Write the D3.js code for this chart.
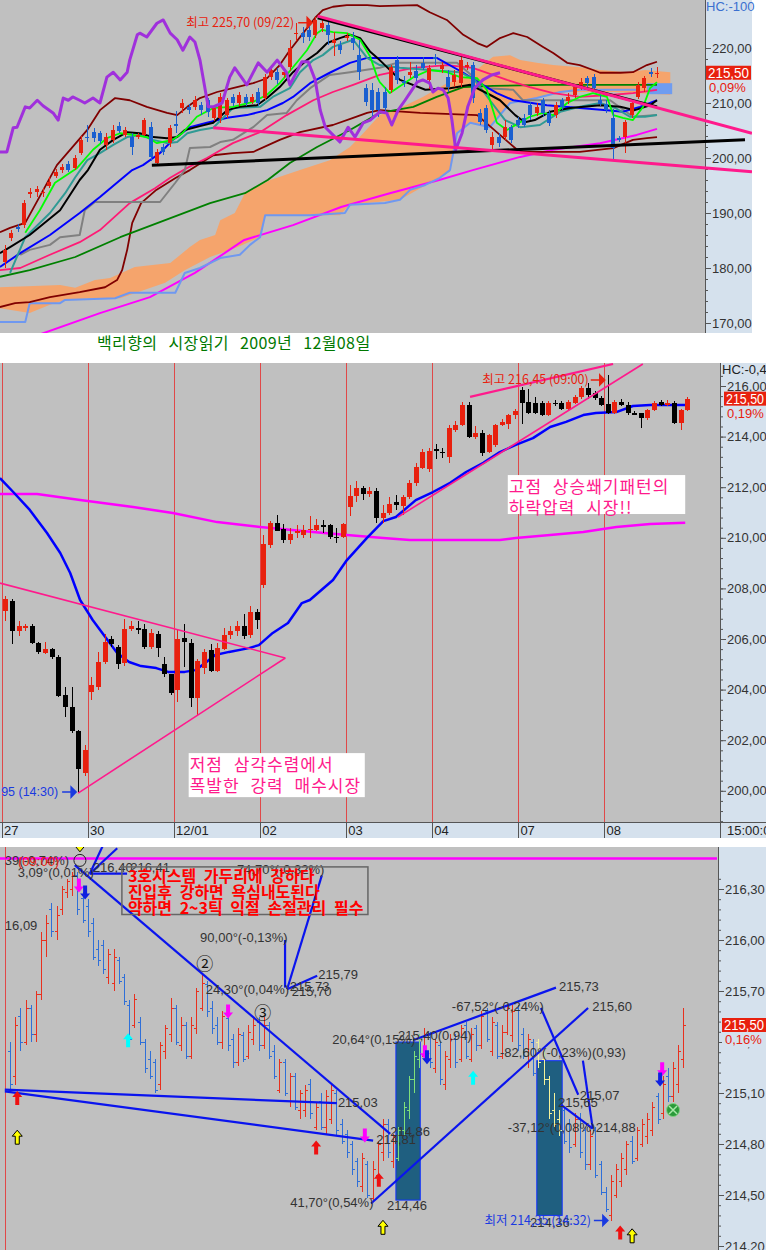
<!DOCTYPE html>
<html>
<head>
<meta charset="utf-8">
<script src="https://cdnjs.cloudflare.com/ajax/libs/d3/7.8.5/d3.min.js"></script>
<style>
  body { margin: 0; background: #fff; }
  svg { display: block; }
  text { font-family: "Liberation Sans Narrow", "Liberation Sans", Arial, sans-serif; }
  .kr { font-family: "Noto Sans CJK KR", sans-serif; }
</style>
</head>
<body>
<svg id="chart" width="766" height="1250"></svg>
<script>
// ---------------- panel 1 : daily candles [open, high, low, close] ----------------
const p1Candles = [
  [181.1,184.2,180.0,183.3],[185.5,187.0,185.0,186.4],[187.4,188.0,186.5,187.2],[187.8,192.4,187.3,191.8],
  [193.4,194.5,192.8,193.8],[193.8,195.0,193.0,194.3],[193.6,194.6,193.0,193.9],[194.9,196.5,194.5,195.6],
  [196.7,198.0,196.3,197.4],[197.9,199.0,197.3,198.4],[198.9,199.5,197.5,197.8],[198.2,200.5,197.8,200.0],
  [200.9,204.0,200.5,203.3],[203.9,206.0,203.0,203.7],[204.7,205.5,203.0,203.6],[204.5,205.0,202.5,203.1],
  [202.4,204.5,201.5,203.8],[203.3,206.0,202.8,205.1],[205.8,206.5,204.5,204.9],[204.2,205.6,203.8,205.1],
  [203.8,204.6,200.5,202.0],[203.9,204.6,203.4,204.1],[204.2,207.2,204.0,206.9],[205.6,206.5,199.5,200.2],
  [199.1,201.6,198.8,201.1],[202.0,202.5,200.5,201.1],[202.7,206.0,202.0,205.5],[206.1,208.5,204.5,205.9],
  [209.1,210.8,208.2,210.0],[209.3,209.8,208.0,208.7],[209.3,211.2,208.8,210.5],[209.6,210.2,207.9,208.7],
  [210.5,211.0,207.5,208.4],[207.3,209.6,206.8,209.1],[207.3,211.8,206.4,211.1],[207.8,211.0,207.3,210.5],
  [211.1,211.6,209.4,210.0],[210.0,212.0,209.5,211.5],[211.1,211.6,209.5,210.0],[210.2,211.6,209.8,211.1],
  [212.0,212.8,209.5,210.0],[210.9,215.2,210.5,214.7],[214.7,217.0,214.2,216.0],[215.6,216.3,213.5,214.2],
  [215.1,216.2,214.5,215.6],[216.5,221.5,215.8,220.0],[222.6,224.5,221.3,222.8],[222.7,223.8,221.0,222.0],
  [223.3,224.5,221.3,222.0],[222.4,225.7,221.8,225.1],[223.6,225.3,223.0,224.6],[224.2,225.0,220.5,222.4],
  [220.9,223.0,218.5,221.5],[220.5,221.3,219.0,219.6],[221.9,222.8,221.3,222.1],[221.8,223.0,219.6,220.9],
  [218.7,221.5,214.2,215.6],[212.7,213.5,209.5,210.2],[212.4,213.7,207.5,208.7],[212.0,212.8,207.5,208.7],
  [212.0,213.0,208.0,209.1],[212.4,217.0,211.8,216.5],[217.8,218.5,213.5,214.2],[214.0,215.0,213.0,213.7],
  [215.1,217.5,214.5,215.6],[215.8,217.0,214.0,214.5],[217.3,218.3,216.0,216.4],[214.2,217.0,212.5,216.4],
  [218.3,219.0,217.0,218.0],[216.2,217.5,215.5,216.9],[214.7,216.0,212.0,212.9],[213.8,216.0,213.0,215.1],
  [213.6,218.5,213.0,217.8],[216.6,217.5,216.0,216.9],[216.9,217.5,210.0,210.9],[208.2,209.0,206.0,206.5],
  [209.1,209.6,204.5,205.1],[202.4,204.8,201.6,203.8],[203.8,204.5,202.0,202.7],[203.8,207.0,203.3,205.6],
  [205.6,206.0,202.7,203.3],[207.0,207.5,205.5,206.0],[207.3,208.0,205.6,206.0],[209.6,210.2,207.0,207.8],
  [208.2,210.0,207.6,209.3],[210.5,211.0,207.5,208.2],[208.2,208.8,205.8,206.4],[207.8,210.2,207.2,209.6],
  [210.5,211.0,208.7,209.3],[210.4,211.8,209.8,211.1],[211.5,213.5,211.0,212.9],[212.9,214.5,212.4,213.8],
  [214.5,215.0,213.0,213.6],[214.7,215.3,212.0,212.7],[210.5,211.5,209.5,209.8],[209.8,210.5,208.2,208.7],
  [207.3,209.0,199.6,201.8],[203.6,204.0,203.0,203.3],[203.8,207.0,201.0,206.5],[207.8,210.5,207.3,210.0],
  [211.1,213.8,210.7,213.3],[212.7,215.0,212.0,214.5],[215.6,216.3,214.7,215.3],[215.3,216.5,214.5,215.5]
];
// indicator lines, [candle index, price]
const p1Chikou = [[-0.8,201.1],[0.3,201.1],[1.3,205.5],[1.9,205.6],[3.2,209.3],[3.9,209.1],[5.1,210.5],[6.0,209.5],[7.6,208.2],[8.4,206.9],[9.2,210.9],[10.0,210.5],[10.7,211.1],[11.8,210.5],[12.6,210.0],[13.9,210.9],[15.0,210.0],[16.1,214.7],[17.1,215.6],[18.2,214.2],[19.3,215.6],[19.7,217.8],[20.9,222.4],[21.3,222.7],[22.4,222.0],[24.0,224.5],[25.0,225.1],[26.1,222.7],[27.2,221.5],[28.1,219.6],[29.2,222.0],[30.0,221.1],[30.8,217.8],[32.1,209.3],[32.9,209.3],[34.3,210.0],[35.5,214.7],[36.3,216.4],[38.2,213.3],[40.0,217.3],[41.4,215.6],[43.0,217.8],[44.5,215.5],[45.0,213.3],[46.9,217.5],[47.9,217.5],[49.0,214.2],[49.8,208.7],[50.6,205.6],[51.8,204.2],[52.9,202.9],[54.2,205.6],[55.3,203.8],[56.6,206.4],[57.7,206.9],[59.2,208.4],[60.3,208.2],[61.1,206.0],[62.1,208.7],[63.2,210.5],[64.3,212.4],[65.1,213.8],[66.0,214.2],[67.1,213.6],[67.6,212.0],[68.4,212.7],[69.2,212.4],[70.0,210.9],[70.6,206.9],[71.2,201.5],[72.2,204.5],[73.1,209.3],[74.2,212.7],[75.5,214.2],[76.9,215.1],[78.2,215.5]];
const p1BandUp = [[-0.8,186.5],[0.8,187.3],[3.2,188.2],[8.2,198.7],[13.0,205.1],[15.0,208.7],[17.4,210.9],[19.7,210.5],[22.4,209.3],[25.6,208.2],[27.2,207.8],[28.8,209.3],[30.8,210.9],[33.5,212.0],[36.0,212.7],[39.2,213.6],[41.4,214.5],[43.4,216.9],[45.0,219.6],[47.1,222.7],[49.0,225.5],[50.2,226.9],[51.8,227.5],[54.0,227.8],[57.2,227.8],[59.2,227.6],[65.1,227.8],[67.1,226.5],[69.8,225.1],[72.4,222.4],[74.6,220.9],[76.1,220.2],[78.2,221.8],[80.3,222.7],[82.5,222.0],[85.0,220.2],[86.6,219.1],[88.8,217.3],[90.8,216.9],[92.9,216.0],[94.0,215.5],[97.2,215.5],[99.2,215.6],[101.4,216.9],[103.0,217.5]];
const p1BandLow = [[-0.8,172.9],[1.6,173.6],[3.9,173.8],[7.1,174.7],[11.8,175.6],[15.8,176.5],[17.7,177.8],[18.5,179.6],[19.3,183.3],[20.1,188.2],[21.5,191.8],[23.9,194.2],[27.0,196.4],[29.2,197.8],[32.9,200.5],[36.0,200.9],[39.2,201.1],[43.4,203.3],[46.6,204.7],[51.8,206.0],[55.0,207.3],[57.2,208.2],[59.2,208.7],[65.6,208.2],[74.6,207.8],[80.9,201.5],[81.8,201.1],[90.8,201.1],[96.1,201.8],[99.2,203.3],[101.4,203.6],[103.0,203.8]];
const p1MaBlack = [[-0.8,182.7],[0.8,183.8],[3.9,186.0],[8.7,190.5],[11.8,196.0],[13.1,197.8],[15.0,201.5],[17.1,203.3],[19.3,204.7],[21.3,204.5],[23.4,203.8],[25.6,203.6],[27.2,203.8],[28.4,205.1],[30.8,205.8],[32.9,206.4],[35.1,208.7],[37.1,209.3],[39.8,209.6],[41.4,210.9],[43.4,212.9],[45.5,215.6],[47.7,217.8],[49.3,219.1],[50.9,220.9],[52.9,221.8],[54.5,222.4],[56.1,221.8],[57.7,219.3],[59.2,217.8],[62.4,214.2],[66.4,212.4],[70.3,212.7],[73.5,213.3],[76.6,211.5],[78.2,210.5],[80.6,207.8],[82.1,206.5],[83.7,206.9],[86.1,208.4],[89.3,209.1],[94.0,209.6],[97.2,209.3],[99.5,208.7],[101.9,209.6],[103.0,210.5]];
const p1MaLime = [[3.2,186.4],[5.5,190.5],[7.9,195.5],[11.4,198.2],[13.9,201.5],[16.1,203.6],[18.2,204.5],[20.2,204.2],[22.4,203.8],[24.0,202.7],[26.5,203.3],[28.0,204.5],[30.3,207.5],[32.9,209.1],[36.0,209.3],[39.2,210.2],[41.4,211.5],[43.4,213.6],[45.5,216.5],[47.7,219.6],[49.3,222.7],[50.1,223.3],[51.8,222.9],[54.0,222.7],[56.1,221.5],[57.7,218.4],[58.8,214.7],[59.2,213.8],[60.8,211.8],[64.5,214.7],[67.1,216.0],[69.8,215.6],[71.9,214.7],[74.6,214.5],[76.1,212.4],[77.7,206.4],[79.3,205.1],[81.4,206.5],[82.9,207.5],[85.0,208.2],[86.6,207.8],[88.8,210.0],[90.8,211.1],[92.9,211.8],[95.1,211.1],[96.1,207.8],[97.6,207.3],[99.2,206.9],[100.8,209.3],[101.9,212.7],[103.0,213.8]];
const p1MaTeal = [[0.8,179.1],[3.2,185.6],[7.1,190.0],[9.5,193.6],[11.1,196.5],[13.0,199.6],[15.0,200.9],[17.1,202.4],[19.3,203.8],[21.3,204.2],[23.4,203.3],[25.6,202.7],[27.2,202.9],[28.8,204.5],[30.8,205.1],[32.9,205.5],[36.0,209.1],[40.3,209.3],[42.3,211.1],[45.0,212.7],[46.6,215.6],[48.7,217.8],[50.2,218.7],[51.8,220.2],[55.0,221.5],[57.2,218.2],[59.2,216.9],[62.4,216.4],[67.1,216.0],[71.9,215.6],[74.2,214.2],[76.6,210.5],[79.0,206.9],[81.4,205.6],[84.5,206.0],[87.7,208.4],[90.8,209.3],[94.0,210.0],[96.4,209.1],[98.7,207.5],[101.1,207.5],[103.0,207.8]];
const p1MaBlue = [[-0.8,180.2],[2.4,182.7],[7.1,186.0],[11.8,190.0],[15.0,192.9],[18.2,196.0],[20.1,197.8],[21.8,198.7],[24.5,200.9],[26.5,203.3],[29.2,205.6],[31.9,206.4],[35.1,207.3],[38.2,207.8],[41.4,208.7],[43.9,210.0],[45.5,211.1],[48.2,213.6],[51.3,215.5],[54.5,217.3],[57.2,218.2],[59.2,218.2],[68.2,218.2],[72.4,215.5],[75.0,213.6],[77.7,211.8],[80.3,210.5],[85.6,209.6],[90.8,209.1],[95.1,208.7],[97.6,208.4],[100.3,209.3],[103.0,210.5]];
const p1Kijun = [[2.4,182.4],[3.9,183.3],[7.1,184.2],[8.7,185.6],[11.8,186.0],[12.6,190.5],[14.2,192.0],[24.5,192.0],[26.9,195.5],[28.4,197.8],[29.2,201.8],[32.4,202.0],[34.0,202.9],[36.0,203.3],[39.2,205.6],[41.4,207.8],[44.5,208.2],[46.1,210.5],[48.2,212.7],[51.3,215.1],[54.5,215.6],[59.2,216.4],[61.9,217.3],[71.4,217.3],[76.1,212.7],[80.3,212.4],[81.8,210.5],[95.6,210.5],[99.2,207.5],[103.0,207.8]];
const p1MaPink = [[-0.8,179.6],[2.4,180.0],[7.1,182.4],[11.8,184.7],[15.0,186.9],[19.7,191.8],[23.7,194.5],[26.1,196.4],[28.8,198.2],[31.9,200.0],[36.0,202.7],[40.3,204.7],[44.5,207.8],[48.7,210.5],[51.8,212.0],[55.0,213.3],[59.2,215.1],[64.5,216.4],[69.8,216.9],[73.9,216.4],[79.3,214.2],[82.9,212.9],[86.6,211.8],[90.8,211.1],[96.1,211.5],[99.2,211.8],[103.0,212.4]];
const p1MaGreen = [[-0.8,178.4],[3.9,179.6],[11.1,182.0],[18.2,185.6],[25.3,188.7],[32.4,191.8],[37.9,193.6],[41.5,196.0],[45.0,199.1],[49.3,202.0],[54.5,205.1],[59.2,208.2],[64.5,209.3],[68.2,211.1],[72.4,212.9],[77.1,213.1],[85.6,213.3],[103.0,213.3]];
const p1MaLong = [[5.2,167.8],[15.0,171.8],[22.9,174.7],[30.0,179.1],[37.8,185.1],[45.5,187.8],[53.1,191.1],[60.8,193.6],[68.6,196.0],[73.9,197.8],[81.4,200.2],[86.6,201.5],[94.0,202.7],[99.8,204.2],[103.0,205.3]];
const p1SpanB = [[-0.8,170.2],[3.2,170.2],[3.9,173.6],[8.7,173.6],[9.5,174.2],[17.4,174.5],[19.7,175.5],[26.9,175.5],[28.4,179.1],[30.8,180.0],[34.0,181.8],[37.1,182.4],[38.7,184.2],[40.3,185.6],[41.1,189.6],[48.2,189.6],[53.7,190.0],[54.5,191.5],[60.0,191.8],[62.4,192.4],[64.0,194.2],[66.4,195.1],[68.7,196.4],[70.3,197.8],[71.4,204.5],[73.5,206.4],[76.6,205.6],[79.8,210.0],[84.0,210.9],[87.7,212.0],[90.8,212.4],[99.8,212.4]];
const p1CloudA = [[-0.8,176.5],[8.7,176.9],[11.1,176.4],[14.2,177.8],[16.6,178.2],[20.5,180.2],[26.1,180.9],[29.2,183.8],[30.8,185.1],[33.2,186.0],[34.0,188.7],[36.3,190.0],[37.9,193.6],[41.9,196.0],[46.6,197.8],[51.3,199.6],[54.5,202.0],[56.6,204.5],[59.2,207.8],[62.4,209.1],[66.0,211.1],[69.8,213.6],[73.0,214.7],[75.0,216.5],[77.1,218.4],[79.8,218.7],[81.4,217.8],[84.0,217.3],[86.6,216.9],[90.8,216.5],[94.0,216.0],[98.3,215.6],[101.1,216.0],[105.1,215.6]];
const p1CloudB = [[-0.8,172.7],[3.9,171.8],[7.1,173.3],[9.5,174.2],[13.7,174.5],[18.2,174.5],[25.3,177.3],[28.4,179.6],[32.4,182.0],[36.3,183.6],[40.3,185.6],[41.1,189.6],[52.9,189.6],[54.5,191.5],[62.4,192.4],[67.9,196.0],[70.3,197.5],[71.4,204.5],[73.5,206.4],[76.6,205.6],[79.8,210.0],[84.0,210.9],[88.8,212.0],[96.1,212.0],[105.1,211.5]];
const p1CloudFlip = [[101.4,213.6],[105.4,213.6],[105.4,211.6],[101.4,211.6]];
// drawn trend lines [[i, price], [i, price]]
const p1PinkTrends = [[[49.4,225.8],[118.0,204.5]], [[32.9,205.5],[118.0,197.5]]];
const p1BlackTrends = [[[49.4,225.5],[103.0,209.3]], [[23.2,198.7],[116.9,203.3]]];
const p1Ticks = [170, 180, 190, 200, 210, 220];
const p1High = [49, 225.7, "최고 225,70 (09/22)"];

// ---------------- panel 2 : 30-minute candles [open, high, low, close] ----------------
const p2Candles = [
  [207.1,207.7,206.7,207.6],[207.5,207.6,205.8,206.3],[206.3,206.7,206.1,206.5],[206.45,206.6,206.3,206.5],
  [206.5,206.6,205.8,205.85],[205.85,205.9,205.4,205.5],[205.45,205.9,205.4,205.6],[205.6,205.65,205.2,205.3],
  [205.3,205.35,203.7,203.75],[203.8,204.1,202.9,203.3],[203.3,204.1,202.3,202.35],[202.35,202.4,199.95,200.85],
  [200.7,201.8,200.6,201.6],
  [203.9,204.5,203.6,204.2],[204.1,205.5,204.0,205.1],[205.1,206.2,205.0,205.9],[206.0,206.1,205.7,205.8],
  [205.7,205.75,204.8,205.0],[205.05,206.8,204.95,206.4],[206.4,206.7,206.3,206.5],[206.45,206.7,206.2,206.35],
  [206.4,206.6,205.6,205.7],[205.7,206.4,205.6,206.25],[206.2,206.3,205.3,205.65],[205.0,205.3,204.5,204.6],
  [204.6,204.6,203.8,203.85],
  [204.0,206.35,203.5,206.0],[206.05,206.6,204.9,205.9],[205.85,206.0,203.3,203.65],[203.65,205.2,203.0,205.15],
  [204.85,205.6,204.6,205.5],[205.55,205.8,204.7,204.75],[204.75,205.85,204.7,205.65],[205.6,206.45,205.55,206.15],
  [206.15,206.5,206.0,206.3],[206.3,206.7,206.1,206.5],[206.5,207.0,206.0,206.1],[206.15,207.3,206.05,207.05],
  [207.05,207.2,206.4,206.75],
  [208.15,210.1,208.0,209.75],[209.7,210.65,209.6,210.6],[210.6,210.9,210.25,210.25],[210.35,210.55,209.8,209.9],
  [209.9,210.4,209.75,210.15],[210.2,210.5,210.0,210.25],[210.1,210.5,210.0,210.3],[210.3,210.85,210.0,210.35],
  [210.3,210.75,210.25,210.5],[210.5,210.7,210.2,210.45],[210.5,210.55,209.95,210.05],[210.05,210.4,209.8,210.0],
  [210.05,210.6,210.0,210.55],
  [211.2,212.1,210.85,211.65],[211.65,212.25,211.4,211.95],[211.95,212.05,211.5,211.75],[211.75,212.0,211.6,211.85],
  [211.85,211.95,210.6,210.8],[210.8,211.3,210.6,211.0],[211.0,211.6,210.9,211.35],[211.4,211.7,211.1,211.3],
  [211.25,211.7,210.9,211.6],[211.6,212.3,211.55,212.15],[212.15,212.95,212.05,212.8],[212.75,213.5,212.7,213.4],
  [212.7,213.55,212.6,213.45],
  [213.5,213.7,213.1,213.45],[213.4,213.55,213.15,213.35],[213.19,214.45,212.95,214.34],[214.26,214.6,214.2,214.46],
  [214.46,215.35,214.4,215.25],[215.25,215.35,213.95,213.98],[213.98,214.4,213.9,214.14],[214.14,214.25,213.25,213.35],
  [213.39,214.1,213.35,214.06],[213.67,214.5,213.6,214.46],[214.46,214.7,214.4,214.58],[214.5,214.9,214.3,214.85],
  [214.85,215.1,214.7,215.0],
  [215.84,215.95,214.5,215.33],[215.37,215.9,214.9,214.93],[215.33,215.55,214.9,214.93],[215.33,215.4,214.8,214.85],
  [214.85,215.4,214.8,215.33],[215.33,215.45,215.2,215.3],[215.33,215.4,215.05,215.1],[215.1,215.45,215.05,215.37],
  [215.33,215.65,215.3,215.57],[215.57,216.0,215.5,215.92],[215.92,216.1,215.5,215.64],[215.72,215.8,215.45,215.53],
  [215.53,215.6,215.2,215.25],
  [215.29,216.45,214.9,214.93],[214.93,215.45,214.9,215.37],[215.37,215.5,215.2,215.25],[215.25,215.35,214.85,214.93],
  [214.93,215.0,214.85,214.9],[214.93,214.95,214.34,214.74],[214.74,215.1,214.65,215.05],[215.05,215.4,215.0,215.33],
  [215.37,215.45,215.2,215.25],[215.25,215.45,215.2,215.33],[215.33,215.4,214.5,214.54],[214.54,215.1,214.26,215.05],
  [215.05,215.55,215.0,215.5]
];
const p2Dates = ["27", "30", "12/01", "02", "03", "04", "07", "08"];
const p2BarsPerDay = 13;
const p2MaBlue = [[-0.8,212.36],[1.2,211.81],[3.7,211.10],[6.3,210.19],[8.3,209.40],[9.8,208.61],[11.3,207.54],[13.2,206.75],[15.1,206.08],[16.9,205.45],[18.7,205.09],[20.5,204.93],[22.8,204.85],[24.6,204.70],[27.1,204.70],[28.7,204.77],[30.2,205.05],[31.7,205.37],[33.8,205.49],[36.8,205.64],[38.3,205.76],[40.4,206.24],[42.7,206.63],[44.8,207.42],[46.0,207.54],[49.5,208.33],[51.6,209.12],[54.6,209.99],[57.1,210.66],[59.0,210.82],[62.0,211.49],[64.6,211.81],[67.2,212.17],[69.6,212.60],[72.2,212.96],[74.7,213.39],[77.1,213.67],[79.7,213.94],[82.3,214.38],[84.7,214.58],[87.3,214.85],[89.2,214.93],[92.3,214.97],[94.8,215.21],[97.4,215.25],[102.7,215.25]];
const p2MaLong = [[-0.8,211.73],[4.8,211.73],[11.3,211.49],[19.3,211.22],[25.3,210.98],[32.0,210.62],[38.5,210.43],[46.5,210.23],[51.6,210.11],[57.1,209.99],[61.1,209.91],[74.7,209.91],[77.1,209.99],[82.3,210.11],[87.3,210.23],[92.3,210.43],[97.4,210.55],[102.7,210.59]];
const p2Trends = [[[-0.8,208.21],[42.3,205.25]], [[11.0,199.91],[42.3,205.25]], [[59.3,210.82],[96.3,216.87]]];
const p2WedgeTop = [[70.2,215.57],[91.8,216.87]];
const p2Ticks = [200, 202, 204, 206, 208, 210, 212, 214, 216];
const p2High = [91, 216.24, "최고 216,45 (09:00)"];
const p2Low = [11, 199.95, "95 (14:30)"];
const p2Note1 = ["저점 삼각수렴에서", "폭발한 강력 매수시장"];
const p2Note1Box = [27.7, 201.49, 54.3, 199.75];
const p2Note2 = ["고점 상승쐐기패턴의", "하락압력 시장!!"];
const p2Note2Box = [75.9, 212.48, 102.7, 210.94];

// ---------------- panel 3 : minute bars [open, high, low, close] ----------------
const p3Bars = [
  [215.35,215.40,215.12,215.15],[215.20,215.55,215.15,215.50],[215.55,215.60,215.35,215.40],[215.40,215.65,215.38,215.60],
  [215.60,215.62,215.40,215.45],[215.45,215.70,215.40,215.68],[215.68,216.05,215.65,216.00],[216.00,216.15,215.90,216.10],
  [216.18,216.22,216.02,216.05],[216.05,216.20,216.00,216.15],[216.18,216.32,216.15,216.30],[216.28,216.36,216.25,216.35],
  [216.30,216.40,216.26,216.38],[216.38,216.40,216.15,216.18],[216.25,216.28,216.10,216.12],[216.20,216.24,216.02,216.05],
  [216.10,216.13,215.88,215.90],[215.95,216.00,215.85,215.88],[215.97,216.00,215.80,215.83],[215.78,215.95,215.74,215.92],
  [215.75,215.95,215.70,215.90],[215.88,215.90,215.74,215.76],[215.78,215.80,215.62,215.64],[215.62,215.65,215.40,215.42],
  [215.50,215.68,215.48,215.65],[215.52,215.55,215.38,215.40],[215.40,215.42,215.22,215.25],[215.30,215.35,215.18,215.20],
  [215.28,215.30,215.10,215.12],[215.15,215.40,215.12,215.38],[215.35,215.50,215.30,215.48],[215.45,215.66,215.40,215.60],
  [215.60,215.62,215.38,215.40],[215.38,215.55,215.35,215.50],[215.50,215.52,215.30,215.32],[215.32,215.55,215.30,215.50],
  [215.48,215.72,215.45,215.70],[215.60,215.80,215.58,215.75],[215.74,215.76,215.55,215.58],[215.60,215.64,215.45,215.48],
  [215.50,215.55,215.38,215.40],[215.40,215.58,215.36,215.55],[215.54,215.56,215.35,215.38],[215.42,215.45,215.25,215.28],
  [215.28,215.48,215.26,215.45],[215.44,215.46,215.28,215.30],[215.32,215.50,215.30,215.46],[215.42,215.55,215.38,215.50],
  [215.52,215.55,215.35,215.38],[215.38,215.55,215.36,215.50],[215.50,215.52,215.30,215.32],[215.35,215.38,215.18,215.20],
  [215.12,215.30,215.10,215.28],[215.28,215.30,215.08,215.10],[215.05,215.22,215.02,215.20],[215.20,215.22,215.00,215.02],
  [215.00,215.12,214.95,215.10],[215.00,215.15,214.96,215.12],[215.15,215.18,214.95,214.98],[214.90,215.05,214.88,215.02],
  [215.05,215.10,214.88,214.90],[214.90,215.12,214.86,215.08],[214.95,215.15,214.92,215.12],[215.10,215.12,214.85,214.88],
  [214.92,214.95,214.80,214.82],[214.86,214.88,214.72,214.75],[214.80,214.82,214.62,214.65],[214.70,214.72,214.55,214.58],
  [214.55,214.75,214.52,214.72],[214.68,214.70,214.48,214.50],[214.48,214.70,214.46,214.65],[214.62,214.82,214.58,214.80],
  [214.75,214.95,214.70,214.92],[214.92,214.95,214.72,214.75],[214.70,214.86,214.66,214.84],[214.72,214.90,214.70,214.88],
  [214.88,215.05,214.85,215.02],[215.00,215.20,214.95,215.18],[215.18,215.35,215.10,215.32],[215.30,215.45,215.25,215.42],
  [215.32,215.48,215.30,215.45],[215.44,215.46,215.25,215.28],[215.25,215.42,215.22,215.40],[215.38,215.40,215.15,215.18],
  [215.15,215.35,215.12,215.32],[215.30,215.45,215.25,215.42],[215.42,215.45,215.25,215.28],[215.30,215.50,215.28,215.48],
  [215.50,215.52,215.30,215.32],[215.30,215.48,215.28,215.45],[215.48,215.50,215.35,215.38],[215.38,215.58,215.36,215.55],
  [215.58,215.60,215.40,215.42],[215.35,215.55,215.32,215.52],[215.50,215.52,215.30,215.32],[215.32,215.50,215.30,215.46],
  [215.46,215.62,215.44,215.60],[215.44,215.62,215.40,215.58],[215.60,215.62,215.35,215.38],[215.45,215.48,215.30,215.32],
  [215.28,215.45,215.25,215.42],[215.40,215.42,215.20,215.22],[215.40,215.42,215.25,215.28],[215.30,215.35,215.15,215.18],
  [215.18,215.20,214.95,214.98],[215.00,215.10,214.90,214.92],[214.95,215.00,214.85,214.88],[215.00,215.02,214.80,214.82],
  [214.92,214.95,214.75,214.78],[214.80,214.98,214.78,214.95],[214.95,214.98,214.72,214.75],[214.88,214.90,214.65,214.68],
  [214.68,214.88,214.65,214.85],[214.88,214.90,214.60,214.62],[214.68,214.70,214.50,214.52],[214.52,214.55,214.40,214.42],
  [214.38,214.62,214.35,214.58],[214.50,214.68,214.48,214.65],[214.58,214.75,214.55,214.72],[214.65,214.82,214.62,214.80],
  [214.82,214.85,214.68,214.70],[214.72,214.90,214.70,214.88],[214.80,214.95,214.78,214.92],[214.85,214.98,214.80,214.95],
  [214.88,215.05,214.85,215.02],[215.08,215.10,214.92,214.95],[214.98,215.20,214.95,215.15],[215.20,215.25,215.05,215.08],
  [215.08,215.28,215.05,215.25],[215.15,215.38,215.10,215.35],[215.30,215.60,215.25,215.50]
];
const p3PrevHigh = 216.48;
const p3DayStart = -0.9;
const p3Boxes = [[74.5, 79.2, 215.40, 214.47], [101.7, 106.6, 215.29, 214.38]];
const p3Lines = [
  [[12.5,216.44],[73.4,214.86]], [[-1.0,215.12],[63.1,215.04]], [[-1.0,215.11],[70.1,214.82]],
  [[69.7,214.45],[111.6,215.60]], [[77.8,215.41],[105.4,215.72]], [[102.5,215.60],[109.7,215.09]],
  [[110.6,215.29],[112.5,214.89]], [[106.4,215.03],[112.5,214.89]],
  [[53.1,216.0],[53.1,215.72]], [[53.5,215.71],[60.2,216.38]], [[53.5,215.71],[59.3,215.79]],
  [[15.4,216.39],[22.6,216.39]], [[15.4,216.39],[18.0,216.56]], [[15.4,216.39],[20.7,216.54]]
];
const p3Notes = [
  [-1.0,216.06,"16,09"],[-1.0,216.44,"39(-0,74%)"],[1.5,216.37,"3,09°(0,01%)"],[16.0,216.40,"216,40"],
  [23.2,216.40,"216,41"],[43.8,216.39,"74,70°(-0,32%)"],[36.7,215.99,"90,00°(-0,13%)"],[59.5,215.77,"215,79"],
  [54.4,215.67,"215,70"],[54.0,215.70,"215,73"],[37.8,215.68,"24,30°(0,04%)"],[62.2,215.39,"20,64°(0,15%)"],
  [74.9,215.41,"215,40(0,94)"],[85.3,215.58,"-67,52°(-0,24%)"],[106.0,215.70,"215,73"],[112.4,215.58,"215,60"],
  [94.6,215.31,"-82,60°(-0,23%)(0,93)"],[105.8,215.02,"215,65"],[110.0,215.06,"215,07"],[96.1,214.87,"-37,12°(0,08%)"],
  [113.1,214.87,"214,88"],[63.3,215.02,"215,03"],[70.7,214.80,"214,81"],[73.4,214.85,"214,86"],
  [54.1,214.43,"41,70°(0,54%)"],[72.8,214.41,"214,46"],[100.4,214.31,"214,36"]
];
const p3Circles = [[37.6,215.86,"②"],[48.8,215.57,"③"]];
const p3UpYellow = [[1.4,214.84],[72.0,214.31],[120.1,214.26]];
const p3UpRed = [[1.4,215.07],[59.1,214.78],[71.2,214.59],[117.8,214.28]];
const p3UpCyan = [[22.8,215.41],[89.4,215.19]];
const p3DownMagenta = [[13.3,216.32],[42.1,215.58],[68.5,214.85],[80.1,215.34],[125.9,215.24]];
const p3DownBlue = [[14.5,216.28],[80.5,215.31],[125.5,215.18]];
const p3Exit = [128.0, 215.0];
const p3Memo = ["3호시스템 가두리에 강하다", "진입후 강하면 욕심내도된다", "약하면 2~3틱 익절 손절관리 필수"];
const p3MemoBox = [21.6, 216.43, 69.1, 216.15];
const p3Low = [116, 214.35, "최저 214,35 (14:32)"];
const p3Ticks = [214.2, 214.5, 214.8, 215.1, 215.4, 215.7, 216.0, 216.3];

const lastPrice = 215.5;
const title = "백리향의 시장읽기 2009년 12월08일";

// ------------------------------------------------------------------
const svg = d3.select("#chart");
const GRAY = "#c0c0c0", AXBG = "#d5e1ed", UP = "#e8200e", DOWN1 = "#1a5fd0";
const kr = v => d3.format(".2f")(v).replace(".", ",");

function drawLine(g, data, x, y, color, w) {
  g.append("path").datum(data)
    .attr("d", d3.line().x(d => x(d[0])).y(d => y(d[1])))
    .attr("fill", "none").attr("stroke", color).attr("stroke-width", w)
    .attr("stroke-linejoin", "round");
}

function drawCandles(g, data, x, y, w, up, down) {
  const c = g.selectAll(null).data(data).enter().append("g")
    .attr("shape-rendering", "crispEdges");
  const col = d => d[3] >= d[0] ? up : down;
  c.append("line")
    .attr("x1", (d, i) => Math.round(x(i)) + 0.5).attr("x2", (d, i) => Math.round(x(i)) + 0.5)
    .attr("y1", d => y(d[1])).attr("y2", d => y(d[2]))
    .attr("stroke", col);
  c.append("rect")
    .attr("x", (d, i) => Math.round(x(i)) - Math.floor(w / 2))
    .attr("width", w)
    .attr("y", d => y(Math.max(d[0], d[3])))
    .attr("height", d => Math.max(1.5, Math.abs(y(d[0]) - y(d[3]))))
    .attr("fill", col);
}

function priceAxis(y, x0, w, top, bottom, major, minor) {
  svg.append("rect").attr("x", x0).attr("y", top).attr("width", w).attr("height", bottom - top).attr("fill", AXBG);
  const g = svg.append("g").attr("transform", `translate(${x0},0)`);
  g.append("g").call(d3.axisRight(y).tickValues(minor).tickSize(3).tickFormat(""))
    .call(s => s.select(".domain").remove())
    .selectAll("line").attr("stroke", "#555");
  g.append("g").call(d3.axisRight(y).tickValues(major).tickSize(6).tickPadding(1).tickFormat(kr))
    .call(s => s.select(".domain").remove())
    .call(s => s.selectAll("line").attr("stroke", "#555"))
    .call(s => s.selectAll("text").attr("fill", "#333").style("font-size", "13px")
      .style("font-family", '"Liberation Sans Narrow","Liberation Sans",sans-serif'));
  g.append("line").attr("x1", 0.5).attr("x2", 0.5).attr("y1", top).attr("y2", bottom).attr("stroke", "#555");
}

function lastBox(y, x0, w, pct) {
  const yy = y(lastPrice);
  svg.append("rect").attr("x", x0).attr("y", yy + 7).attr("width", w).attr("height", 15).attr("fill", AXBG);
  svg.append("rect").attr("x", x0).attr("y", yy - 7).attr("width", w).attr("height", 14).attr("fill", UP);
  svg.append("text").attr("x", x0 + 2).attr("y", yy + 5).attr("fill", "#fff")
    .attr("textLength", w - 4).attr("lengthAdjust", "spacingAndGlyphs")
    .style("font-size", "14px").text(kr(lastPrice));
  svg.append("text").attr("x", x0 + 3).attr("y", yy + 19).attr("fill", UP)
    .style("font-size", "13px").text(pct);
}

function arrow(g, x, y, pts, dir, fill, stroke) {
  const up = "M0,-7L5,-1L2,-1L2,7L-2,7L-2,-1L-5,-1Z";
  g.selectAll(null).data(pts).enter().append("path")
    .attr("d", up)
    .attr("transform", d => `translate(${x(d[0])},${y(d[1])}) scale(1,${dir})`)
    .attr("fill", fill).attr("stroke", stroke || "none").attr("stroke-width", 1);
}

function pointer(g, x, y, col) {
  g.append("path").attr("d", `M${x - 14},${y}L${x - 5},${y}M${x - 5},${y - 5}L${x},${y}L${x - 5},${y + 5}Z`)
    .attr("stroke", col).attr("stroke-width", 1.5).attr("fill", col);
}

// ================= PANEL 1 =================
const x1 = d3.scaleLinear().domain([0, 103]).range([5, 657]);
const y1 = d3.scaleLinear().domain([170, 220]).range([323, 48]);
svg.append("rect").attr("width", 705).attr("height", 333).attr("fill", GRAY);
svg.append("clipPath").attr("id", "c1").append("rect").attr("width", 705).attr("height", 333);
svg.append("clipPath").attr("id", "c1w").append("rect").attr("width", 752).attr("height", 333);
const g1 = svg.append("g").attr("clip-path", "url(#c1)");
const l1 = d3.line().x(d => x1(d[0])).y(d => y1(d[1]));

g1.append("path").attr("d", l1(p1CloudA.concat(p1CloudB.slice().reverse())) + "Z").attr("fill", "#f5a46c");
g1.append("path").attr("d", l1(p1CloudFlip) + "Z").attr("fill", "#6f9cf0");
drawLine(g1, p1MaLong, x1, y1, "#ff00ff", 2);
drawLine(g1, p1SpanB, x1, y1, "#6f98f0", 2);
drawLine(g1, p1BandLow, x1, y1, "#800000", 1.8);
drawLine(g1, p1BandUp, x1, y1, "#800000", 1.8);
drawLine(g1, p1MaGreen, x1, y1, "#008000", 1.8);
drawLine(g1, p1MaPink, x1, y1, "#ff1a75", 1.8);
drawLine(g1, p1Kijun, x1, y1, "#808080", 2);
drawLine(g1, p1MaBlue, x1, y1, "#0000ff", 2);
drawLine(g1, p1MaTeal, x1, y1, "#2f9a94", 2);
drawLine(g1, p1MaBlack, x1, y1, "#000", 2);
drawLine(g1, p1MaLime, x1, y1, "#00ff00", 1.8);
drawCandles(g1, p1Candles, x1, y1, 4, UP, DOWN1);
drawLine(g1, p1Chikou, x1, y1, "#a030dc", 3);
g1.append("text").attr("class", "kr").attr("x", x1(p1High[0]) - 21).attr("y", y1(p1High[1]) + 10)
  .attr("text-anchor", "end").attr("fill", "#e8200e").style("font-size", "12.5px").text(p1High[2]);
pointer(g1, x1(p1High[0]) - 3, y1(p1High[1]) + 6, "#e8200e");

priceAxis(y1, 705, 47, 0, 333, p1Ticks, d3.range(170, 222, 2));
svg.append("text").attr("x", 706).attr("y", 11).attr("fill", "#3a6fd0").style("font-size", "13px").text("HC:-100");
lastBox(y1, 706, 45, "0,09%");

// trend lines run over the price axis
const g1w = svg.append("g").attr("clip-path", "url(#c1w)");
p1BlackTrends.forEach(t => drawLine(g1w, t, x1, y1, "#000", 3));
p1PinkTrends.forEach(t => drawLine(g1w, t, x1, y1, "#ff1a8c", 3));

svg.append("text").attr("class", "kr").attr("x", 97).attr("y", 349).attr("fill", "#007800")
  .style("font-size", "16px").style("letter-spacing", "0.4px").style("word-spacing", "7px").text(title);

// ================= PANEL 2 =================
const x2 = d3.scaleLinear().domain([0, 103]).range([5.3, 687.2]);
const y2 = d3.scaleLinear().domain([200, 216]).range([790.8, 386]);
svg.append("rect").attr("y", 363).attr("width", 720).attr("height", 459).attr("fill", GRAY);
svg.append("clipPath").attr("id", "c2").append("rect").attr("y", 363).attr("width", 720).attr("height", 459);
const g2 = svg.append("g").attr("clip-path", "url(#c2)");
const dayX = p2Dates.map((d, i) => x2(i * p2BarsPerDay - 0.5));
g2.selectAll(null).data(dayX).enter().append("line")
  .attr("x1", d => Math.round(d) + 0.5).attr("x2", d => Math.round(d) + 0.5)
  .attr("y1", 363).attr("y2", 822).attr("stroke", "#e04848");
drawLine(g2, p2MaLong, x2, y2, "#ff00ff", 2.5);
drawLine(g2, p2MaBlue, x2, y2, "#0000ff", 2.5);
drawCandles(g2, p2Candles, x2, y2, 5, UP, "#000");
p2Trends.forEach(t => drawLine(g2, t, x2, y2, "#ff1a8c", 1.6));
drawLine(g2, p2WedgeTop, x2, y2, "#ff1a8c", 2.2);
g2.append("text").attr("class", "kr").attr("x", x2(p2High[0]) - 19).attr("y", y2(p2High[1]) + 4)
  .attr("text-anchor", "end").attr("fill", "#e8200e").style("font-size", "12.5px").text(p2High[2]);
pointer(g2, x2(p2High[0]) - 3, y2(p2High[1]), "#e8200e");
g2.append("text").attr("x", x2(p2Low[0]) - 20).attr("y", y2(p2Low[1]) + 4)
  .attr("text-anchor", "end").attr("fill", "#1a3ae0").style("font-size", "12.5px").text(p2Low[2]);
pointer(g2, x2(p2Low[0]) - 2, y2(p2Low[1]), "#1a3ae0");

function noteBox(g, x, y, box, lines, col, size) {
  const bx = x(box[0]), by = y(box[1]);
  g.append("rect").attr("x", bx).attr("y", by).attr("width", x(box[2]) - bx).attr("height", y(box[3]) - by)
    .attr("fill", "#fff");
  g.selectAll(null).data(lines).enter().append("text").attr("class", "kr")
    .attr("x", bx + 1).attr("y", (d, i) => by + 18 + i * 21)
    .attr("fill", col).style("font-size", size + "px")
    .style("letter-spacing", "1px").style("word-spacing", "6px").text(d => d);
}
noteBox(g2, x2, y2, p2Note1Box, p2Note1, "#ff1a8c", 17);
noteBox(g2, x2, y2, p2Note2Box, p2Note2, "#ff1a8c", 17);

priceAxis(y2, 720, 46, 363, 822, p2Ticks, d3.range(0, 45).map(i => 198.8 + i * 0.4));
svg.append("text").attr("x", 722).attr("y", 374).attr("fill", "#222").style("font-size", "13px").text("HC:-0,4");
lastBox(y2, 724, 42, "0,19%");

// date band
svg.append("rect").attr("y", 822).attr("width", 766).attr("height", 16).attr("fill", AXBG);
svg.append("line").attr("x1", 0).attr("x2", 766).attr("y1", 822.5).attr("y2", 822.5).attr("stroke", "#555");
svg.append("line").attr("x1", 720.5).attr("x2", 720.5).attr("y1", 822).attr("y2", 838).attr("stroke", "#555");
const dband = svg.selectAll(null).data(p2Dates).enter().append("g");
dband.append("line").attr("x1", (d, i) => Math.round(dayX[i]) + 0.5).attr("x2", (d, i) => Math.round(dayX[i]) + 0.5)
  .attr("y1", 822).attr("y2", 838).attr("stroke", "#555");
dband.append("text").attr("x", (d, i) => dayX[i] + 2).attr("y", 835).attr("fill", "#222")
  .style("font-size", "13px").text(d => d);
svg.append("text").attr("x", 727).attr("y", 835).attr("fill", "#222").style("font-size", "13px").text("15:00:0");

// ================= PANEL 3 =================
const x3 = d3.scaleLinear().domain([0, 130]).range([10, 683.4]);
const y3 = d3.scaleLinear().domain([214.2, 216.3]).range([1246, 889]);
svg.append("rect").attr("y", 847).attr("width", 718).attr("height", 403).attr("fill", GRAY);
svg.append("clipPath").attr("id", "c3").append("rect").attr("y", 847).attr("width", 718).attr("height", 403);
const g3 = svg.append("g").attr("clip-path", "url(#c3)");
g3.append("line").attr("x1", Math.round(x3(p3DayStart)) + 0.5).attr("x2", Math.round(x3(p3DayStart)) + 0.5)
  .attr("y1", 847).attr("y2", 1250).attr("stroke", "#e04848");
g3.append("line").attr("x1", 0).attr("x2", 717).attr("y1", y3(p3PrevHigh)).attr("y2", y3(p3PrevHigh))
  .attr("stroke", "#ff00ff").attr("stroke-width", 2.5);

const inBox = i => p3Boxes.findIndex(b => i >= b[0] && i <= b[1]);
g3.selectAll(null).data(p3Boxes).enter().append("rect")
  .attr("x", d => x3(d[0])).attr("width", d => x3(d[1]) - x3(d[0]))
  .attr("y", d => y3(d[2])).attr("height", d => y3(d[3]) - y3(d[2]))
  .attr("fill", "#1f5f80").attr("stroke", "#1030ff").attr("stroke-width", 1);
const bar = g3.selectAll(null).data(p3Bars).enter().append("g")
  .attr("shape-rendering", "crispEdges")
  .attr("stroke", (d, i) => {
    const b = inBox(i);
    if (b === 0) return "#7fe07a";
    if (b === 1) return "#f4f29a";
    return d[3] >= d[0] ? "#e8301e" : "#2f6fd8";
  });
bar.append("line").attr("x1", (d, i) => Math.round(x3(i)) + 0.5).attr("x2", (d, i) => Math.round(x3(i)) + 0.5)
  .attr("y1", d => y3(d[1])).attr("y2", d => y3(d[2]));
bar.append("line").attr("x1", (d, i) => Math.round(x3(i)) - 2).attr("x2", (d, i) => Math.round(x3(i)) + 0.5)
  .attr("y1", d => Math.round(y3(d[0])) + 0.5).attr("y2", d => Math.round(y3(d[0])) + 0.5);
bar.append("line").attr("x1", (d, i) => Math.round(x3(i)) + 0.5).attr("x2", (d, i) => Math.round(x3(i)) + 3)
  .attr("y1", d => Math.round(y3(d[3])) + 0.5).attr("y2", d => Math.round(y3(d[3])) + 0.5);

p3Lines.forEach(l => drawLine(g3, l, x3, y3, "#0a14ee", 2.2));

g3.selectAll(null).data(p3Notes).enter().append("text")
  .attr("x", d => x3(d[0])).attr("y", d => y3(d[1]))
  .attr("fill", "#333").style("font-size", "13px").text(d => d[2]);
g3.append("text").attr("x", 18).attr("y", 866).attr("fill", "#e8200e").style("font-size", "13px").text("(09:00)");
g3.selectAll(null).data(p3Circles).enter().append("text").attr("class", "kr")
  .attr("x", d => x3(d[0])).attr("y", d => y3(d[1]) + 6).attr("text-anchor", "middle")
  .attr("fill", "#111").style("font-size", "17px").text(d => d[2]);
g3.append("circle").attr("cx", x3(13.5)).attr("cy", y3(p3PrevHigh) + 2).attr("r", 6)
  .attr("fill", "none").attr("stroke", "#222").attr("stroke-width", 1);
arrow(g3, x3, y3, [[13.5, 216.56]], -1, "#ffff00", "#000");

arrow(g3, x3, y3, p3UpYellow, 1, "#ffff00", "#000");
arrow(g3, x3, y3, p3UpRed, 1, "#ee1010");
arrow(g3, x3, y3, p3UpCyan, 1, "#00ffff");
arrow(g3, x3, y3, p3DownMagenta, -1, "#ff00ff");
arrow(g3, x3, y3, p3DownBlue, -1, "#1020e0");
const ex = x3(p3Exit[0]), ey = y3(p3Exit[1]);
g3.append("circle").attr("cx", ex).attr("cy", ey).attr("r", 6.5)
  .attr("fill", "#2a9a3a").attr("stroke", "#7fd07f");
g3.append("path").attr("d", `M${ex - 4},${ey - 4}L${ex + 4},${ey + 4}M${ex + 4},${ey - 4}L${ex - 4},${ey + 4}`)
  .attr("stroke", "#a8e8a8").attr("stroke-width", 1.5);

g3.append("text").attr("class", "kr").attr("x", x3(p3Low[0]) - 20).attr("y", y3(p3Low[1]) + 4)
  .attr("text-anchor", "end").attr("fill", "#1a3ae0").style("font-size", "12.5px").text(p3Low[2]);
pointer(g3, x3(p3Low[0]) - 3, y3(p3Low[1]), "#1a3ae0");

// memo box
const mx = x3(p3MemoBox[0]), my = y3(p3MemoBox[1]);
g3.append("rect").attr("x", mx).attr("y", my).attr("width", x3(p3MemoBox[2]) - mx).attr("height", y3(p3MemoBox[3]) - my)
  .attr("fill", "none").attr("stroke", "#666").attr("stroke-width", 1.5);
g3.selectAll(null).data(p3Memo).enter().append("text").attr("class", "kr")
  .attr("x", mx + 6).attr("y", (d, i) => my + 15 + i * 16)
  .attr("fill", "#ff0000").style("font-size", "16px").style("font-weight", "bold")
  .style("word-spacing", "4px").text(d => d);

priceAxis(y3, 718, 48, 847, 1250, p3Ticks, d3.range(0, 38).map(i => 214.14 + i * 0.06));
lastBox(y3, 722, 44, "0,16%");
</script>
</body>
</html>
